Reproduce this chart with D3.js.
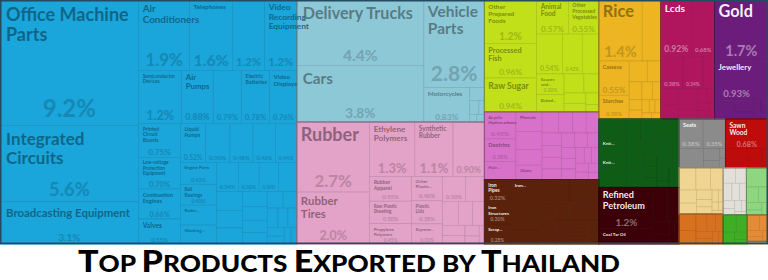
<!DOCTYPE html>
<html><head><meta charset="utf-8">
<script src="https://cdn.jsdelivr.net/npm/d3@7"></script>
<style>html,body{margin:0;padding:0;background:#fff;} svg{display:block}</style>
</head><body>
<svg id="chart" width="768" height="280"></svg>
<script>
// ---------------- DATA (share of exports, %) ----------------
const sectors = ["Machines","Transportation","Plastics and Rubbers","Foodstuffs","Chemical Products","Metals",
  "Vegetable Products","Instruments","Precious Metals","Textiles","Mineral Products","Miscellaneous",
  "Wood Products","Animal Products","Paper Goods","Stone and Glass","Animal Hides","Footwear and Headwear",
  "Animal and Vegetable Bi-Products","Arts and Antiques"];

const machinesProducts = ["Office Machine Parts","Integrated Circuits","Broadcasting Equipment","Air Conditioners","Telephones","Computers","Video Recording Equipment","Semiconductor Devices","Air Pumps","Electrical Transformers","Electric Batteries","Video Displays","Printed Circuit Boards",
  "Low-voltage Protection Equipment","Combustion Engines","Valves","Liquid Pumps","Insulated Wire","Refrigerators","Electric Motors","Electrical Control Boards","Engine Parts","Ball Bearings","Radio Receivers","Washing Machines","Electric Heaters","Electrical Capacitors","Electrical Ignitions","Centrifuges","Electric Motor Parts","Industrial Printers","Lifting Machinery","Electrical Power Accessories","Transmissions","Sound Recordings","Microphones and Headphones","Electric Filament","Electrical Lighting","Other Heating Machinery","Interchangeable Tool Parts","Vacuum Cleaners","Sewing Machines","Electric Soldering Equipment","Ovens","Taps"];
const machinesValues = [9.2,5.6,3.1,1.9,1.6,1.2,1.2,1.2,0.88,0.79,0.78,0.76,0.75,
  0.7,0.66,0.55,0.52,0.5,0.48,0.46,0.44,0.42,0.4,0.38,0.36,0.34,0.32,0.3,0.28,0.26,0.24,0.22,0.2,
  0.18,0.16,0.15,0.14,0.12,0.11,0.1,0.09,0.08,0.07,0.06,0.05];

const transportProducts = ["Delivery Trucks","Cars","Vehicle Parts","Motorcycles","Tractors","Trailers","Bicycles","Ships","Railway Cargo Containers"];
const transportValues = [4.4,3.8,2.8,0.83,0.1,0.07,0.04,0.03,0.03];

const plasticsProducts = ["Rubber","Rubber Tires","Ethylene Polymers","Synthetic Rubber","Polyacetals","Rubber Apparel","Raw Plastic Sheeting","Propylene Polymers","Other Plastic Sheetings","Plastic Lids","Styrene Polymers","Other Rubber Products","Vinyl Chloride Polymers","Plastic Pipes","Rubber Belts","Other Plastic Products","Acrylic Polymers","Plastic Housewares","Rubber Pipes","Rubber Inner Tubes","Hard Rubber"];
const plasticsValues = [2.7,2.0,1.3,1.1,0.9,0.55,0.5,0.45,0.4,0.38,0.33,0.3,0.25,0.2,0.18,0.15,0.12,0.1,0.08,0.06,0.05];

const foodProducts = ["Other Prepared Foods","Processed Fish","Raw Sugar","Animal Food","Other Processed Vegetables","Processed Crustaceans","Fruit Juice","Soups and Broths","Sauces and Seasonings","Baked Goods","Flavored Water","Coffee and Tea Extracts","Pasta","Malt Extract","Chocolate","Sugar Confectionery"];
const foodValues = [1.2,0.96,0.94,0.57,0.55,0.54,0.42,0.35,0.3,0.25,0.2,0.15,0.12,0.1,0.08,0.05];

const chemicalProducts = ["Acyclic Hydrocarbons","Dextrins","Hair Products","Phenols","Insecticides","Beauty Products","Glues","Carboxylic Acids","Nitrogen Heterocyclic Compounds","Packaged Medicaments","Soap","Cleaning Products","Pigments","Organic Compounds","Coloring Matter","Activated Carbon","Sulfonated Compounds","Fertilizers","Enzymes","Alcohols","Other Inorganic Compounds","Perfumes","Other Chemical Products","Paints","Explosives","Photographic Chemicals","Essential Oils","Catalysts"];
const chemicalValues = [0.45,0.38,0.3,0.27,0.25,0.22,0.2,0.18,0.16,0.15,0.14,0.13,0.12,0.12,0.11,0.1,0.1,0.09,0.08,0.08,0.08,0.07,0.06,0.06,0.06,0.05,0.05,0.04];

const metalsProducts = ["Iron Pipes","Iron Structures","Scrap Copper","Iron Fasteners","Aluminium Plating","Copper Pipes","Hot-Rolled Iron","Other Iron Products","Aluminium Bars","Refined Copper","Iron Wire","Raw Tin","Copper Plating","Steel Bars","Aluminium Foil","Hand Tools","Cutlery","Locks","Kitchen Utensils","Metal Containers","Iron Chains","Iron Sheet Piling","Nails","Lead","Springs","Metal Tools"];
const metalsValues = [0.32,0.3,0.28,0.26,0.24,0.22,0.2,0.19,0.18,0.17,0.16,0.15,0.14,0.13,0.12,0.11,0.1,0.09,0.09,0.08,0.08,0.07,0.06,0.06,0.05,0.05];

const vegetableProducts = ["Rice","Other Fruits","Cassava","Starches","Frozen Vegetables","Coconuts, Brazil Nuts, and Cashews","Tropical Fruits","Maize","Pepper","Cut Flowers","Dried Legumes","Tea","Soybeans","Wheat Flours","Seeds for Sowing","Other Vegetables"];
const vegetableValues = [1.4,0.6,0.55,0.38,0.2,0.15,0.12,0.1,0.08,0.07,0.06,0.05,0.04,0.04,0.03,0.03];

const instrumentsProducts = ["Lcds","Optical Fibers","Medical Instruments","Optical Lenses","Thermostats","Photo Lab Equipment","Orthopedic Appliances","Electrical Measuring Instruments","Watches","Spectacles","X-Ray Equipment","Clocks","Other Measuring Instruments","Gas Meters","Cameras"];
const instrumentsValues = [0.92,0.68,0.38,0.34,0.2,0.15,0.13,0.12,0.1,0.09,0.07,0.06,0.05,0.05,0.04];

const preciousProducts = ["Gold","Jewellery","Imitation Jewellery","Silver","Precious Stones","Platinum","Pearls","Gold Clad Metals","Precious Metal Scraps"];
const preciousValues = [1.7,0.93,0.2,0.2,0.12,0.07,0.05,0.05,0.04];

const textilesProducts = ["Non-Retail Synthetic Filament Yarn","Knit T-shirts","Knit Women's Undergarments","Synthetic Filament Yarn Woven Fabric","Non-Knit Men's Suits","Knit Sweaters","Non-Retail Synthetic Staple Fibers Yarn","Synthetic Fibers","Knit Babies' Garments","Non-Knit Women's Suits","Light Pure Woven Cotton","Rubber Textiles","Other Knit Garments","House Linens","Knit Socks","Non-Knit Women's Shirts","Cotton Yarn","Heavy Mixed Woven Cotton","Non-Knit Men's Shirts","Tulles and Net Fabric","Other Cloth Articles","Wadding","Fishing Nets","Ribbons","Labels","Padding","Tire Cord Fabric"];
const textilesValues = [0.28,0.26,0.24,0.2,0.18,0.16,0.15,0.14,0.13,0.12,0.11,0.1,0.1,0.09,0.08,0.07,0.07,0.06,0.05,0.05,0.04,0.04,0.04,0.04,0.04,0.03,0.03];

const mineralProducts = ["Refined Petroleum","Coal Tar Oil","Petroleum Gas","Crude Petroleum","Cement","Gypsum","Salt","Zinc Ore","Petroleum Coke"];
const mineralValues = [1.2,0.45,0.25,0.2,0.1,0.07,0.05,0.04,0.04];

const miscProducts = ["Seats","Lighting Fixtures","Other Furniture","Toys","Sports Equipment","Pens","Brooms"];
const miscValues = [0.38,0.35,0.25,0.1,0.06,0.03,0.03];

const woodProducts = ["Sawn Wood","Particle Board","Wood Crates","Fibreboard","Wood Carpentry","Plywood","Wood Frames"];
const woodValues = [0.68,0.12,0.1,0.08,0.06,0.03,0.03];

const animalProducts = ["Crustaceans","Non-fillet Frozen Fish","Poultry Meat","Fish Fillets","Molluscs","Concentrated Milk","Bird Eggs","Fresh Fish","Animal Hair","Honey","Bones","Animal Organs","Other Edible Animal Products"];
const animalValues = [0.2,0.17,0.15,0.12,0.1,0.08,0.06,0.06,0.04,0.03,0.03,0.02,0.02];

const paperProducts = ["Kraft Paper","Paper Containers","Uncoated Paper","Paper Labels","Toilet Paper","Other Paper","Printed Materials","Books","Paper Notebooks"];
const paperValues = [0.15,0.12,0.1,0.08,0.07,0.06,0.05,0.04,0.03];

const stoneProducts = ["Glass Bottles","Ceramic Tableware","Safety Glass","Glass Fibers","Ceramic Tiles","Float Glass","Glass Mirrors","Porcelain Tableware","Building Stone","Abrasive Powder"];
const stoneValues = [0.1,0.09,0.08,0.07,0.06,0.05,0.04,0.04,0.03,0.02];

const hidesProducts = ["Trunks and Cases","Leather Apparel","Tanned Hides","Other Leather Articles","Saddlery","Raw Hides"];
const hidesValues = [0.22,0.1,0.08,0.06,0.04,0.04];

const footwearProducts = ["Rubber Footwear","Leather Footwear","Textile Footwear","Footwear Parts","Hats"];
const footwearValues = [0.12,0.1,0.07,0.05,0.03];

const biproductsProducts = ["Palm Oil","Animal Fats","Coconut Oil","Margarine","Waxes"];
const biproductsValues = [0.1,0.07,0.05,0.04,0.03];

const artsProducts = ["Paintings","Antiques"];
const artsValues = [0.02,0.01];

const titleText = "Top Products Exported by Thailand";

// ---------------- STYLE ----------------
const sectorColors = {
  "Machines":"#1aa5db","Transportation":"#8dc8d7","Plastics and Rubbers":"#e3a2c7","Foodstuffs":"#c2e01a",
  "Chemical Products":"#d871c9","Metals":"#5b220b","Vegetable Products":"#ecb521","Instruments":"#b0165e",
  "Precious Metals":"#6c1d7b","Textiles":"#0f5c17","Mineral Products":"#3b0008","Miscellaneous":"#8b8b8b",
  "Wood Products":"#c00b0b","Animal Products":"#efd591","Paper Goods":"#d7711f","Stone and Glass":"#e2ded8",
  "Animal Hides":"#8fd680","Footwear and Headwear":"#3fae25","Animal and Vegetable Bi-Products":"#e68b35",
  "Arts and Antiques":"#a8a89a"
};

// ---------------- BUILD ----------------
const sectorData = [
  [machinesProducts,machinesValues],[transportProducts,transportValues],[plasticsProducts,plasticsValues],
  [foodProducts,foodValues],[chemicalProducts,chemicalValues],[metalsProducts,metalsValues],
  [vegetableProducts,vegetableValues],[instrumentsProducts,instrumentsValues],[preciousProducts,preciousValues],
  [textilesProducts,textilesValues],[mineralProducts,mineralValues],[miscProducts,miscValues],
  [woodProducts,woodValues],[animalProducts,animalValues],[paperProducts,paperValues],
  [stoneProducts,stoneValues],[hidesProducts,hidesValues],[footwearProducts,footwearValues],
  [biproductsProducts,biproductsValues],[artsProducts,artsValues]
];

const tree = {name:"Thailand", children: sectors.map((s,i)=>({
  name:s, children: sectorData[i][0].map((p,j)=>({name:p, value: sectorData[i][1][j]}))
}))};

const W = 768, TH = 244;
const root = d3.hierarchy(tree).sum(d=>d.value||0);
d3.treemap().tile(d3.treemapSquarify).size([W, TH]).paddingInner(0).round(false)(root);

const svg = d3.select("#chart");
const FONT = "Lato, 'Open Sans', sans-serif";

const meas = svg.append("text").attr("font-family",FONT).attr("font-weight",700)
  .attr("x",-1000).attr("y",-1000).attr("visibility","hidden");
function tw(t, s){ meas.attr("font-size", s).text(t); return meas.node().getComputedTextLength(); }

function lum(c){
  const r = d3.rgb(c);
  const f = v => { v/=255; return v<=0.03928 ? v/12.92 : Math.pow((v+0.055)/1.055,2.4); };
  return 0.2126*f(r.r)+0.7152*f(r.g)+0.0722*f(r.b);
}

function wrap(words, s, maxW){
  const lines=[]; let cur="";
  for (const w of words){
    if (tw(w,s) > maxW) return null;
    const t = cur ? cur+" "+w : w;
    if (tw(t,s) <= maxW) cur = t; else { lines.push(cur); cur = w; }
  }
  if (cur) lines.push(cur);
  return lines;
}

function fitLabel(name, w, h){
  const pad = Math.max(3, Math.min(5, w*0.04));
  const aw = w - 2*pad - 4;
  const words = name.split(" ");
  const smax = Math.min(18, h*0.27);
  const floor = Math.max(4.5, smax*0.55);
  for (let s = smax; s >= floor; s -= 0.5){
    const lines = wrap(words, s, aw);
    if (lines && lines.length*s*1.12 <= h*0.5) return {s, lines, pad};
  }
  for (let s = floor; s >= 4.5; s -= 0.5){
    const maxLines = Math.floor(h*0.5/(s*1.12));
    if (maxLines < 1) continue;
    const out=[]; let cur=""; let ok=true;
    for (const w of words){
      const t = cur ? cur+" "+w : w;
      if (tw(t,s) <= aw) { cur = t; continue; }
      if (!cur) { ok=false; break; }
      out.push(cur); cur = w;
      if (out.length >= maxLines) { cur=""; break; }
    }
    if (!ok) continue;
    if (out.length < maxLines && cur) out.push(cur);
    if (!out.length) continue;
    const full = out.join(" ") === name;
    if (!full){
      let lw = out[out.length-1].split(" ");
      let cand = lw.join(" ") + "...";
      while (tw(cand,s) > aw && lw.length>1){ lw.pop(); cand = lw.join(" ")+"..."; }
      if (tw(cand,s) > aw) continue;
      out[out.length-1] = cand;
    }
    return {s, lines: out, pad};
  }
  return null;
}

const fmt = v => v >= 1 ? d3.format(".1f")(v) + "%" : d3.format(".2f")(v) + "%";

const gTree = svg.append("g");
const leaves = root.leaves();

gTree.selectAll("rect.leaf").data(leaves).join("rect")
  .attr("class","leaf")
  .attr("x", d=>d.x0).attr("y", d=>d.y0)
  .attr("width", d=>Math.max(0,d.x1-d.x0)).attr("height", d=>Math.max(0,d.y1-d.y0))
  .attr("fill", d=>sectorColors[d.parent.data.name])
  .attr("stroke", d=>d3.color(sectorColors[d.parent.data.name]).darker(0.45))
  .attr("stroke-width", 0.6);

gTree.selectAll("rect.grp").data(root.children).join("rect")
  .attr("class","grp")
  .attr("x", d=>d.x0).attr("y", d=>d.y0)
  .attr("width", d=>d.x1-d.x0).attr("height", d=>d.y1-d.y0)
  .attr("fill","none")
  .attr("stroke", d=>d3.color(sectorColors[d.data.name]).darker(1.1))
  .attr("stroke-width", 0.9);

gTree.append("rect").attr("x",0.75).attr("y",0.75).attr("width",W-1.5).attr("height",TH-1.5)
  .attr("fill","none").attr("stroke","#244b60").attr("stroke-width",1.5);

// labels
const gText = svg.append("g");
leaves.forEach(d=>{
  const w = d.x1-d.x0, h = d.y1-d.y0;
  if (w < 14 || h < 12) return;
  const col = sectorColors[d.parent.data.name];
  const dark = lum(col) < 0.28;
  const labCol = dark ? "#ffffff" : d3.color(col).darker(1.7).formatHex();
  const pctCol = dark ? d3.interpolateRgb(col, "#ffffff")(0.42) : d3.color(col).darker(0.55).formatHex();
  const lab = fitLabel(d.data.name, w, h);
  if (lab){
    const t = gText.append("text").attr("font-family",FONT).attr("font-weight",700)
      .attr("font-size", lab.s).attr("fill", labCol).attr("fill-opacity", dark?0.95:0.85);
    lab.lines.forEach((ln,i)=>{
      t.append("tspan").attr("x", d.x0+lab.pad+1).attr("y", d.y0+lab.pad+lab.s*0.88+i*lab.s*1.12).text(ln);
    });
  }
  const txt = fmt(d.data.value);
  const aw = w - 6;
  let ps = Math.min(24, h*0.24, aw/(txt.length*0.58));
  if (h >= 20 && ps >= 4.5){
    gText.append("text").attr("font-family",FONT).attr("font-weight",700)
      .attr("font-size", ps).attr("fill", pctCol).attr("text-anchor","middle")
      .attr("x", (d.x0+d.x1)/2).attr("y", d.y1 - Math.max(2.5, Math.min(8, h*0.07)))
      .text(txt);
  }
});
meas.remove();

// title (small caps)
const title = svg.append("text").attr("x", 78).attr("y", 272)
  .attr("font-family", "Lato, 'DejaVu Sans', sans-serif").attr("font-weight", 900)
  .attr("fill","#000").attr("textLength", 542).attr("lengthAdjust","spacingAndGlyphs");
let runs=[];
for (const ch of titleText){
  const big = ch !== ch.toLowerCase();
  const last = runs[runs.length-1];
  if (last && last.big===big) last.t += ch; else runs.push({big, t:ch});
}
runs.forEach(r=>{
  title.append("tspan").attr("font-size", r.big?30:23).text(r.t.toUpperCase());
});
</script>
</body></html>
